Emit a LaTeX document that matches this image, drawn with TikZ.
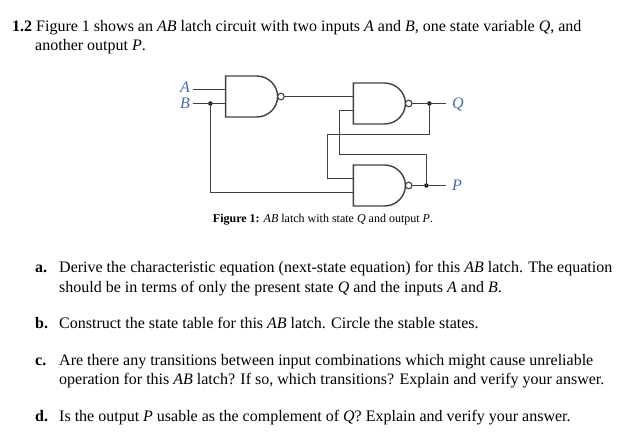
\documentclass[tikz,border=0pt]{standalone}
\usepackage{fontspec}
\setmainfont{Liberation Serif}
\usetikzlibrary{calc}
\definecolor{wirec}{HTML}{404040}
\definecolor{labc}{HTML}{4A6A9E}
\tikzset{
  x=1pt,y=-1pt,
  gatebox/.style={rectangle,draw=none,minimum width=52pt,minimum height=41pt,inner sep=0pt,outer sep=0pt},
  gatebubble/.style={circle,draw=wirec,fill=white,line width=1.1pt,minimum size=6.6pt,inner sep=0pt,outer sep=0pt,anchor=west},
  wire/.style={draw=wirec,line width=1.4pt,line join=miter},
  junction/.style={circle,fill=black,inner sep=0pt,minimum size=4.4pt},
  bodytext/.style={anchor=base west,font=\fontsize{16pt}{18pt}\selectfont,inner sep=0pt,text=black},
  captext/.style={anchor=base,font=\fontsize{12pt}{14pt}\selectfont,inner sep=0pt,text=black},
  pinlab/.style={font=\fontsize{16pt}{18pt}\selectfont\itshape,text=labc,inner sep=0pt},
}
% #1 name, #2 left x, #3 middle y
\newcommand{\nandgate}[3]{%
  \node[gatebox,anchor=west] (#1) at (#2,#3) {};
  \draw[wire] (#1.north west) -- ++(31,0) .. controls +(11.6,0) and +(0,-11.3) .. ++(21,20.5)
     .. controls +(0,11.3) and +(11.6,0) .. ++(-21,20.5) -- (#1.south west) -- cycle;
  \node[gatebubble] (#1b) at (#1.east) {};
  \coordinate (#1in1) at ($(#1.west)+(0,-7)$);
  \coordinate (#1in2) at ($(#1.west)+(0,7)$);
}
\begin{document}
\begin{tikzpicture}
\useasboundingbox (0,0) rectangle (629,444);
% gates
\nandgate{g1}{225.6}{96.5}
\nandgate{g2}{353.4}{103.5}
\nandgate{g3}{353.4}{185.5}
% pins and junctions
\node[pinlab] (A) at (185,87) {A};
\node[pinlab] (B) at (185,103) {B};
\node[pinlab] (Q) at (458,104) {Q};
\node[pinlab] (P) at (457,185) {P};
\coordinate (Aw) at (193,89.5);
\coordinate (Bw) at (193,103.5);
\node[junction] (jb) at (210.4,103.5) {};
\node[junction] (jq) at (429.4,103.5) {};
\node[junction] (jp) at (426.4,185.5) {};
\coordinate (Qe) at (446,103.5);
\coordinate (Pe) at (446,185.5);
\coordinate (fbq) at (429.4,134.4);
\coordinate (fbql) at (327.6,134.4);
\coordinate (fbp) at (426.4,154.4);
\coordinate (fbpl) at (339.4,154.4);
% wires
\draw[wire] (Aw) -- (g1in1);
\draw[wire] (Bw) -- (g1in2);
\draw[wire] (g1b.east) -- (g2in1);
\draw[wire] (g2b.east) -- (Qe);
\draw[wire] (g3b.east) -- (Pe);
\draw[wire] (jb.center) |- (g3in2);
\draw[wire] (jq.center) -- (fbq) -- (fbql) |- (g3in1);
\draw[wire] (jp.center) -- (fbp) -- (fbpl) |- (g2in2);
% caption
\node[captext] (figcap) at (323,222.5) {\textbf{Figure 1:} \textit{AB} latch with state \textit{Q} and output \textit{P}.};
% text
\node[bodytext] (t1) at (12,32) {\textbf{1.2} Figure 1 shows an \textit{AB} latch circuit with two inputs \textit{A} and \textit{B}, one state variable \textit{Q}, and};
\node[bodytext] (t2) at (35,51) {another output \textit{P}.};
\node[bodytext] (la) at (35,272) {\textbf{a.}};
\node[bodytext] (ta1) at (59,272) {Derive the characteristic equation (next-state equation) for this \textit{AB} latch. The equation};
\node[bodytext] (ta2) at (59,292) {should be in terms of only the present state \textit{Q} and the inputs \textit{A} and \textit{B}.};
\node[bodytext] (lb) at (35,328) {\textbf{b.}};
\node[bodytext] (tb) at (59,328) {Construct the state table for this \textit{AB} latch. Circle the stable states.};
\node[bodytext] (lc) at (35,365) {\textbf{c.}};
\node[bodytext] (tc1) at (59,365) {Are there any transitions between input combinations which might cause unreliable};
\node[bodytext] (tc2) at (59,384) {operation for this \textit{AB} latch? If so, which transitions? Explain and verify your answer.};
\node[bodytext] (ld) at (35,421) {\textbf{d.}};
\node[bodytext] (td) at (59,421) {Is the output \textit{P} usable as the complement of \textit{Q}? Explain and verify your answer.};
\end{tikzpicture}
\end{document}
